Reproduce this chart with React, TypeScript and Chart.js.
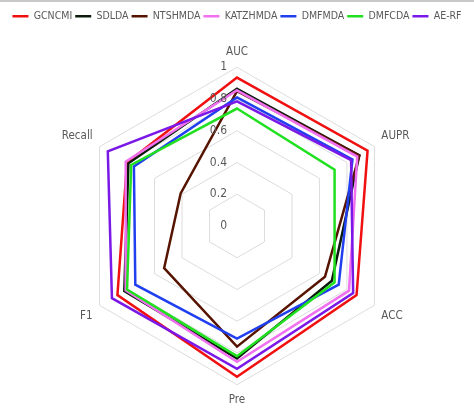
import React, { useEffect, useRef } from 'react';
import { Chart, registerables } from 'chart.js';

Chart.register(...registerables);

const metrics = ['AUC', 'AUPR', 'ACC', 'Pre', 'F1', 'Recall'];
const tickValues = [0, 0.2, 0.4, 0.6, 0.8, 1];

const gcncmi = [0.935, 0.95, 0.87, 0.95, 0.87, 0.8];
const sdlda = [0.865, 0.89, 0.69, 0.835, 0.82, 0.79];
const ntshmda = [0.85, 0.89, 0.64, 0.76, 0.53, 0.41];
const katzhmda = [0.855, 0.875, 0.815, 0.855, 0.81, 0.81];
const dmfmda = [0.81, 0.84, 0.74, 0.71, 0.74, 0.75];
const dmfcda = [0.74, 0.71, 0.71, 0.82, 0.8, 0.77];
const aerf = [0.785, 0.83, 0.845, 0.9, 0.91, 0.94];

const series = [
  { name: 'GCNCMI', values: gcncmi, color: '#f01010' },
  { name: 'SDLDA', values: sdlda, color: '#0c1a0c' },
  { name: 'NTSHMDA', values: ntshmda, color: '#561400' },
  { name: 'KATZHMDA', values: katzhmda, color: '#f070f0' },
  { name: 'DMFMDA', values: dmfmda, color: '#2040f0' },
  { name: 'DMFCDA', values: dmfcda, color: '#20e020' },
  { name: 'AE-RF', values: aerf, color: '#7a18e8' },
];

const FONT = "'Liberation Sans Narrow', 'DejaVu Sans Condensed', 'Liberation Sans', sans-serif";
const TEXT = '#595959';

// tick labels sit left of the vertical axis, like Excel does it
const tickLabelPlugin = {
  id: 'tickLabels',
  afterDatasetsDraw(chart: any) {
    const scale = chart.scales.r;
    const ctx = chart.ctx;
    ctx.save();
    ctx.font = `12px ${FONT}`;
    ctx.fillStyle = TEXT;
    ctx.textAlign = 'right';
    ctx.textBaseline = 'middle';
    tickValues.forEach((v) => {
      const d = scale.getDistanceFromCenterForValue(v);
      ctx.fillText(String(v), scale.xCenter - 10, scale.yCenter - d);
    });
    ctx.restore();
  },
};

// a bit more room under the legend
const legendGap = {
  id: 'legendGap',
  beforeInit(chart: any) {
    const origFit = chart.legend.fit;
    chart.legend.fit = function fit() {
      origFit.bind(chart.legend)();
      this.height += 14;
    };
  },
};

export default function App() {
  const canvasRef = useRef<HTMLCanvasElement>(null);
  const chartRef = useRef<Chart | null>(null);

  useEffect(() => {
    if (!canvasRef.current) return;
    if (chartRef.current) chartRef.current.destroy();

    const ctx = canvasRef.current.getContext('2d');
    if (!ctx) return;

    chartRef.current = new Chart(ctx, {
      type: 'radar',
      data: {
        labels: metrics,
        datasets: series.map((s, i) => ({
          label: s.name,
          data: s.values,
          borderColor: s.color,
          backgroundColor: 'transparent',
          borderWidth: 2.5,
          pointRadius: 0,
          fill: false,
          order: series.length - i,
        })),
      },
      options: {
        responsive: true,
        maintainAspectRatio: false,
        animation: false,
        layout: { padding: { top: 6, bottom: 12, left: 0, right: 0 } },
        plugins: {
          legend: {
            position: 'top',
            labels: {
              usePointStyle: true,
              pointStyle: 'line',
              pointStyleWidth: 16,
              color: TEXT,
              font: { family: FONT, size: 10.5 },
              padding: 3,
              sort: (a: any, b: any) => a.datasetIndex - b.datasetIndex,
            },
          },
          tooltip: { enabled: false },
        },
        scales: {
          r: {
            min: 0,
            max: 1,
            ticks: { stepSize: 0.2, display: false },
            grid: { color: '#dcdcdc', lineWidth: 1 },
            angleLines: { display: false },
            pointLabels: {
              color: TEXT,
              font: { family: FONT, size: 11.5 },
              padding: 8,
            },
          },
        },
      },
      plugins: [tickLabelPlugin, legendGap],
    });

    return () => {
      if (chartRef.current) {
        chartRef.current.destroy();
        chartRef.current = null;
      }
    };
  }, []);

  return (
    <div
      style={{
        position: 'fixed',
        left: 0,
        top: 0,
        width: 474,
        height: 419,
        background: '#fff',
        borderTop: '2px solid #c8c8c8',
        boxSizing: 'border-box',
      }}
    >
      <canvas ref={canvasRef}></canvas>
    </div>
  );
}
